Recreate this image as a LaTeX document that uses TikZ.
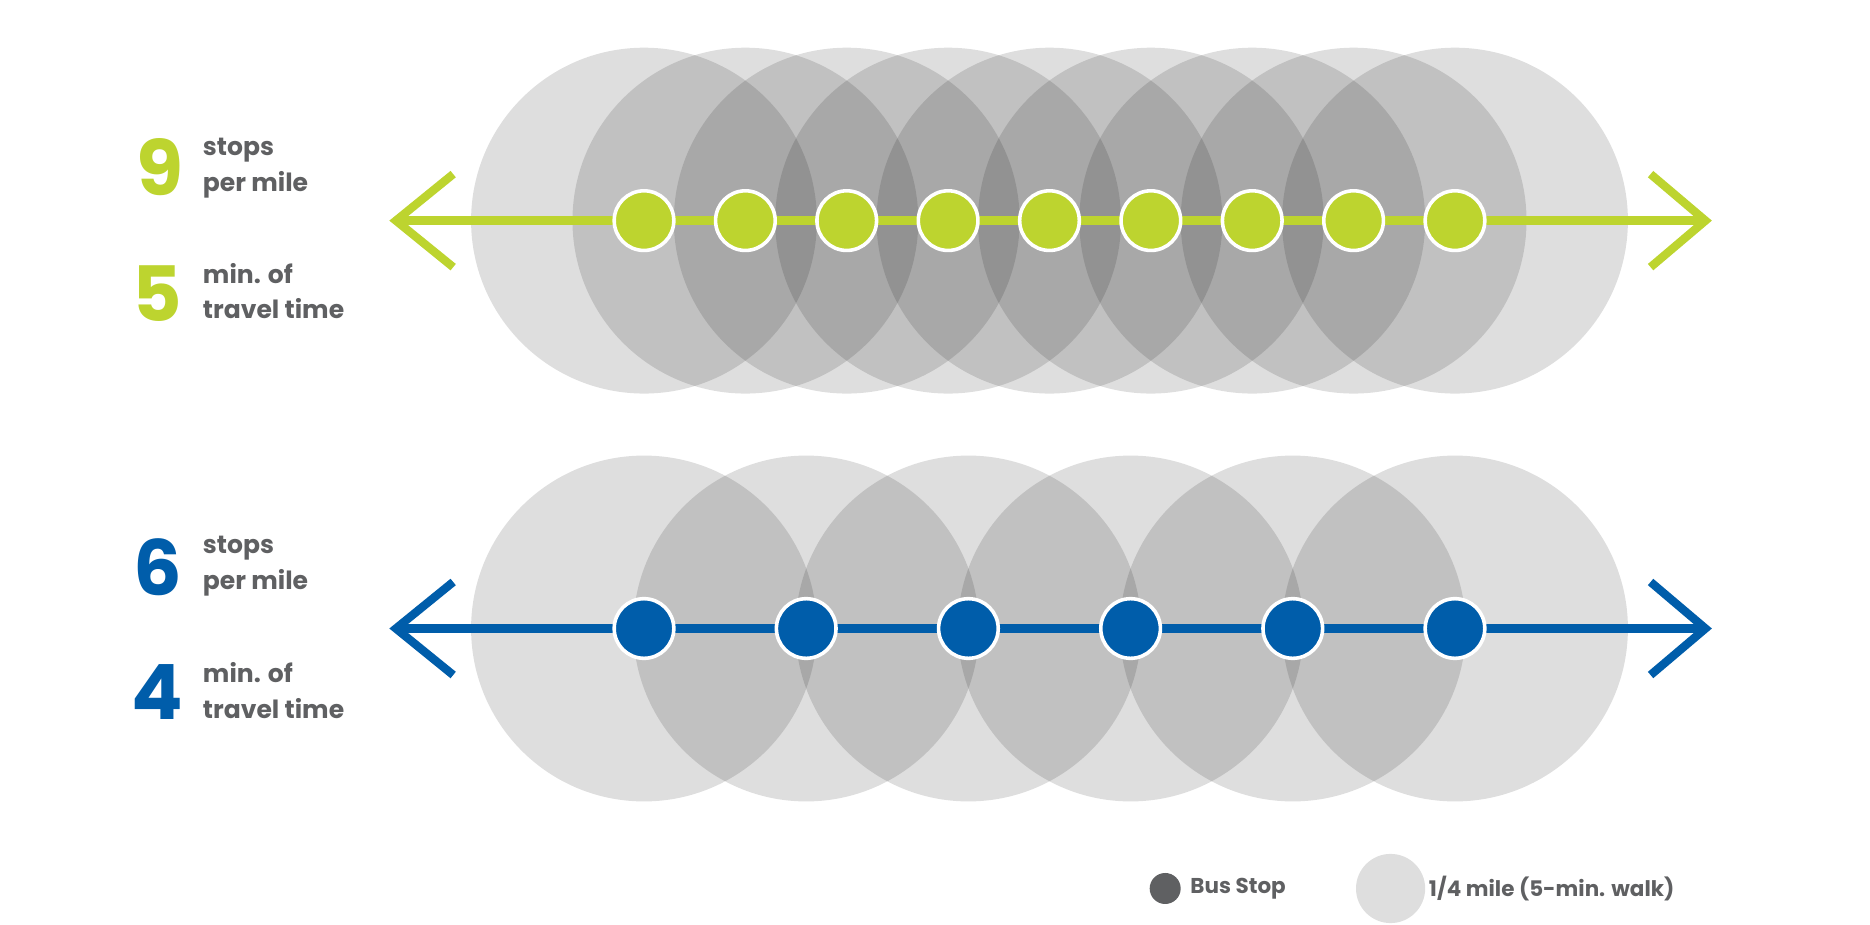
\documentclass[tikz,border=0pt]{standalone}
\usepackage{fontspec}
\setmainfont{Poppins}
\definecolor{lime}{HTML}{BDD42F}
\definecolor{navy}{HTML}{005DAA}
\definecolor{txt}{HTML}{5F6062}
\begin{document}
\begin{tikzpicture}[x=1pt,y=-1pt,
  walk/.style={circle,minimum size=290pt,inner sep=0pt,fill=black,fill opacity=0.13,draw=none},
  gstop/.style={circle,minimum size=50pt,inner sep=0pt,fill=lime,draw=white,line width=3pt},
  bstop/.style={circle,minimum size=50pt,inner sep=0pt,fill=navy,draw=white,line width=3pt},
  big/.style={font=\fontsize{64}{64}\selectfont\bfseries,inner sep=0pt},
  lab/.style={font=\fontsize{21}{30}\selectfont\bfseries,text=txt,align=left,anchor=west,inner sep=0pt}]
\useasboundingbox (0,0) rectangle (1568,775);
% top row
\foreach \i in {0,...,8}{\node[walk] (ta\i) at (540+85*\i,185) {};}
\coordinate (tl) at (332,185); \coordinate (tr) at (1430,185);
\draw[lime,line width=7pt] (tl) -- (tr);
\draw[lime,line width=7pt,line join=miter] (380,146) -- (tl) -- (380,224);
\draw[lime,line width=7pt,line join=miter] (1384,146) -- (tr) -- (1384,224);
\foreach \i in {0,...,8}{\node[gstop] (ts\i) at (540+85*\i,185) {};}
% bottom row
\foreach \i in {0,...,5}{\node[walk] (ba\i) at (540+136*\i,527) {};}
\coordinate (bl) at (332,527); \coordinate (br) at (1430,527);
\draw[navy,line width=7pt] (bl) -- (br);
\draw[navy,line width=7pt,line join=miter] (380,488) -- (bl) -- (380,566);
\draw[navy,line width=7pt,line join=miter] (1384,488) -- (br) -- (1384,566);
\foreach \i in {0,...,5}{\node[bstop] (bs\i) at (540+136*\i,527) {};}
% texts
\node[big,text=lime] (n9) at (134,140) {9};
\node[lab] (t9) at (170,141) {stops\\per mile};
\node[big,text=lime] (n5) at (132,246) {5};
\node[lab] (t5) at (170,244) {min. of\\travel time};
\node[big,text=navy] (n6) at (132,476) {6};
\node[lab] (t6) at (170,475) {stops\\per mile};
\node[big,text=navy] (n4) at (132,580) {4};
\node[lab] (t4) at (170,579) {min. of\\travel time};
% legend
\node[circle,minimum size=26pt,inner sep=0pt,fill=txt] (lg1) at (977,745) {};
\node[lab,font=\fontsize{18}{20}\selectfont\bfseries] (lt1) at (998,745) {Bus Stop};
\node[circle,minimum size=58pt,inner sep=0pt,fill=black,fill opacity=0.13] (lg2) at (1166,745) {};
\node[lab,font=\fontsize{18}{20}\selectfont\bfseries] (lt2) at (1198,745) {1/4 mile (5-min. walk)};
\end{tikzpicture}
\end{document}
